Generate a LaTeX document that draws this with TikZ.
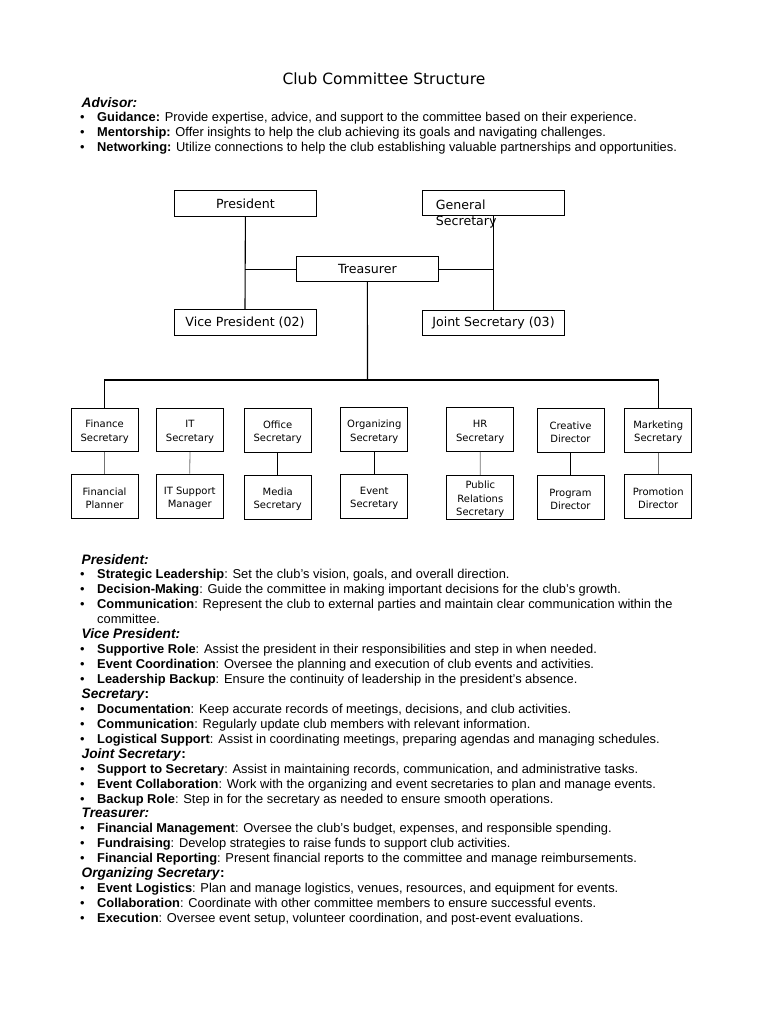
\documentclass[tikz,border=0pt]{standalone}
\usepackage{fontspec}
\setmainfont{Liberation Sans}
\newfontfamily\dv{DejaVu Sans}
\newcommand\bodyf{\fontsize{12.85}{15}\selectfont}
\newcommand\headf{\fontsize{13.7}{15}\selectfont\bfseries\itshape}
\newcommand\tp{\rule{0pt}{11.8pt}}
\begin{document}
\begin{tikzpicture}[x=1pt,y=-1pt,
  box/.style={draw, line width=1pt, inner sep=0pt, font=\dv\fontsize{12.6}{15}\selectfont},
  sbox/.style={draw, line width=1pt, inner sep=0pt, minimum width=67pt, minimum height=43.5pt, align=center, font=\dv\fontsize{10}{13.4}\selectfont},
  gtxt/.style={anchor=base west, inner sep=0pt, font=\dv\fontsize{12.6}{15}\selectfont},
  txt/.style={anchor=base west, inner sep=0pt, font=\bodyf},
  hd/.style={anchor=base west, inner sep=0pt, font=\headf},
  conn/.style={line width=1.1pt},
  lconn/.style={line width=0.8pt, black!55}]
\newcommand\bitem[4]{%
  \node[txt] (b#1) at (80,#2) {•};
  \node[txt] (t#1) at (97,#2) {\textbf{#3}#4};}
\useasboundingbox (0,0) rectangle (768,1024);
\fill[white] (0,0) rectangle (768,1024);

% title
\node[anchor=base, inner sep=0pt, font=\dv\fontsize{15.5}{18}\selectfont] (title) at (384,85) {Club Committee Structure};

% advisor
\node[hd] (hadv) at (81.5,107.5) {Advisor:};
\bitem{a1}{122}{Guidance:}{ Provide expertise, advice, and support to the committee based on their experience.}
\bitem{a2}{137}{Mentorship:}{ Offer insights to help the club achieving its goals and navigating challenges.}
\bitem{a3}{152}{Networking:}{ Utilize connections to help the club establishing valuable partnerships and opportunities.}

% chart top
\node[box, minimum width=142.7pt, minimum height=25.3pt] (pres) at (245.4,203.4) {President};
\node[box, minimum width=141.6pt, minimum height=25pt] (gs) at (493.5,203.2) {};
\node[gtxt] (gsA) at (435.7,209.5) {General};
\node[gtxt] (gsB) at (435.7,225.5) {Secretary};
\node[box, minimum width=142.7pt, minimum height=25pt] (tre) at (367.4,269.2) {Treasurer};
\node[box, minimum width=142pt, minimum height=25.7pt] (vp) at (245,322.2) {Vice President (02)};
\node[box, minimum width=141.6pt, minimum height=25.3pt] (js) at (493.5,323.3) {Joint Secretary (03)};

\draw[conn] (pres.south) -- (vp.north);
\draw[conn] (gs.south) -- (js.north);
\draw[conn] (tre.west) -- (tre.west -| pres.south);
\draw[conn] (tre.east) -- (tre.east -| gs.south);

% bottom boxes
\node[sbox] (fin) at (104.6,429.8) {\tp Finance\\Secretary};
\node[sbox] (it) at (190,429.8) {\tp IT\\Secretary};
\node[sbox] (off) at (277.7,430.3) {\tp Office\\Secretary};
\node[sbox] (org) at (374.3,429.5) {\tp Organizing\\Secretary};
\node[sbox] (hr) at (480.2,429.5) {\tp HR\\Secretary};
\node[sbox] (cre) at (570.5,430.3) {\tp Creative\\Director};
\node[sbox] (mkt) at (658.2,430.3) {\tp Marketing\\Secretary};

\node[sbox, minimum height=44pt] (fp) at (104.6,496) {\tp Financial\\Planner};
\node[sbox, minimum height=44pt] (its) at (189.7,496) {\tp IT Support\\Manager};
\node[sbox, minimum height=44pt] (med) at (277.7,497) {\tp Media\\Secretary};
\node[sbox, minimum height=44pt] (evt) at (374.3,496) {\tp Event\\Secretary};
\node[sbox, minimum height=44pt] (pr) at (480.3,497.3) {\tp Public\\Relations\\Secretary};
\node[sbox, minimum height=44pt] (prg) at (570.5,497) {\tp Program\\Director};
\node[sbox, minimum height=44pt] (pro) at (658.2,496) {\tp Promotion\\Director};

\coordinate (bus) at (367.5,380);
\draw[conn] (tre.south) -- (bus);
\draw[conn] (fin.north) -- (fin.north |- bus) -- (mkt.north |- bus) -- (mkt.north);

\draw[lconn] (fin.south) -- (fp.north);
\draw[lconn] (it.south) -- (its.north);
\draw[conn] (off.south) -- (med.north);
\draw[conn] (org.south) -- (evt.north);
\draw[lconn] (hr.south) -- (pr.north);
\draw[conn] (cre.south) -- (prg.north);
\draw[lconn] (mkt.south) -- (pro.north);

% lower text
\node[hd] (hpres) at (81.5,{564+0*14.94}) {President:};
\bitem{p1}{564+1*14.94}{Strategic Leadership}{: Set the club's vision, goals, and overall direction.}
\bitem{p2}{564+2*14.94}{Decision-Making}{: Guide the committee in making important decisions for the club's growth.}
\bitem{p3}{564+3*14.94}{Communication}{: Represent the club to external parties and maintain clear communication within the}
\node[txt] (p3b) at (97,{564+4*14.94}) {committee.};

\node[hd] (hvp) at (81.5,{564+5*14.94}) {Vice President:};
\bitem{v1}{564+6*14.94}{Supportive Role}{: Assist the president in their responsibilities and step in when needed.}
\bitem{v2}{564+7*14.94}{Event Coordination}{: Oversee the planning and execution of club events and activities.}
\bitem{v3}{564+8*14.94}{Leadership Backup}{: Ensure the continuity of leadership in the president's absence.}

\node[hd] (hsec) at (81.5,{564+9*14.94}) {Secretary\textup{:}};
\bitem{s1}{564+10*14.94}{Documentation}{: Keep accurate records of meetings, decisions, and club activities.}
\bitem{s2}{564+11*14.94}{Communication}{: Regularly update club members with relevant information.}
\bitem{s3}{564+12*14.94}{Logistical Support}{: Assist in coordinating meetings, preparing agendas and managing schedules.}

\node[hd] (hjs) at (81.5,{564+13*14.94}) {Joint Secretary\textup{:}};
\bitem{j1}{564+14*14.94}{Support to Secretary}{: Assist in maintaining records, communication, and administrative tasks.}
\bitem{j2}{564+15*14.94}{Event Collaboration}{: Work with the organizing and event secretaries to plan and manage events.}
\bitem{j3}{564+16*14.94}{Backup Role}{: Step in for the secretary as needed to ensure smooth operations.}

\node[hd] (htre) at (81.5,{564+17*14.94}) {Treasurer:};
\bitem{t1}{564+18*14.94}{Financial Management}{: Oversee the club's budget, expenses, and responsible spending.}
\bitem{t2}{564+19*14.94}{Fundraising}{: Develop strategies to raise funds to support club activities.}
\bitem{t3}{564+20*14.94}{Financial Reporting}{: Present financial reports to the committee and manage reimbursements.}

\node[hd] (horg) at (81.5,{564+21*14.94}) {Organizing Secretary\textup{:}};
\bitem{o1}{564+22*14.94}{Event Logistics}{: Plan and manage logistics, venues, resources, and equipment for events.}
\bitem{o2}{564+23*14.94}{Collaboration}{: Coordinate with other committee members to ensure successful events.}
\bitem{o3}{564+24*14.94}{Execution}{: Oversee event setup, volunteer coordination, and post-event evaluations.}
\end{tikzpicture}
\end{document}
